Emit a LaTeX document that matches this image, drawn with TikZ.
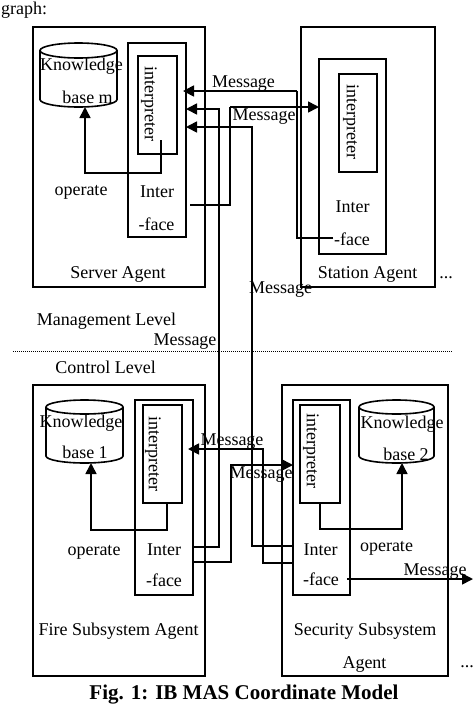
\documentclass[tikz,border=0pt]{standalone}
\usepackage{fontspec}
\setmainfont{Liberation Serif}
\usetikzlibrary{arrows.meta,fit}
\newcommand\kbcyl[5]{%
  \draw[cyl] (#1,#2) ellipse [x radius=#4pt, y radius=#5pt];
  \draw[cyl] (#1-#4,#2) -- (#1-#4,#3) arc[start angle=180,end angle=360,x radius=#4pt,y radius=#5pt] -- (#1+#4,#2);}
\begin{document}
\begin{tikzpicture}[x=1pt,y=-1pt,
  agent/.style={draw, line width=1.7pt, inner sep=0pt},
  inbox/.style={draw, line width=1.3pt, inner sep=0pt},
  cyl/.style={line width=1.6pt},
  lbl/.style={font=\fontsize{18}{20}\selectfont, inner sep=0pt, anchor=base},
  vlbl/.style={font=\fontsize{18}{20}\selectfont, inner sep=0pt, rotate=-90, anchor=center},
  conn/.style={line width=1.6pt},
  thinconn/.style={line width=1.2pt},
  tip/.style={-{Triangle[length=11pt,width=11pt]}},
  sep/.style={line width=0.9pt, dash pattern=on 1pt off 1pt}]
\useasboundingbox (0,0) rectangle (474,705);

% header / caption
\node[lbl, anchor=base west] (hdr) at (1,14) {graph:};
\node[lbl, font=\fontsize{21}{24}\selectfont\bfseries] (cap) at (244,699) {Fig. 1: IB MAS Coordinate Model};

% ---------- Server Agent ----------
\node[agent, fit={(33,27)(205,287)}] (srv) {};
\node[inbox, fit={(128,43)(186,237)}] (srvif) {};
\node[inbox, fit={(138,56)(177,154)}] (srvip) {};
\kbcyl{78.5}{50.5}{99.5}{38.5}{7.5}
\coordinate (kbm) at (85,107);
\node[lbl] (srvkn) at (81.5,70) {Knowledge};
\node[lbl] (srvkb) at (87.5,103) {base m};
\node[vlbl] (srvit) at (149,104) {interpreter};
\node[lbl] (srvop) at (81,195) {operate};
\node[lbl] (srvin) at (157,197) {Inter};
\node[lbl] (srvfa) at (156.5,230) {-face};
\node[lbl] (srvnm) at (118,278) {Server Agent};
\coordinate (srvops) at (161,140);
\draw[conn,tip] (srvops) -- (161,173) -| (kbm);

% ---------- Station Agent ----------
\node[agent, fit={(301,27)(435,287)}] (sta) {};
\node[inbox, fit={(319,59)(386,254)}] (staif) {};
\node[inbox, fit={(339,74)(377,172)}] (staip) {};
\node[vlbl] (stait) at (351,122) {interpreter};
\node[lbl] (stain) at (352.5,212) {Inter};
\node[lbl] (stafa) at (352,245) {-face};
\node[lbl] (stanm) at (367.5,278) {Station Agent};
\node[lbl] (stadots) at (446,278) {...};

% ---------- levels ----------
\node[lbl] (mgmt) at (106.5,325) {Management Level};
\node[lbl] (ctrl) at (105.5,373) {Control Level};
\coordinate (sepL) at (13,351);
\coordinate (sepR) at (452,351);
\draw[sep] (sepL) -- (sepR);

% ---------- Fire Subsystem Agent ----------
\node[agent, fit={(33,385)(205,676)}] (fire) {};
\node[inbox, fit={(135,400)(193,595)}] (fireif) {};
\node[inbox, fit={(143,405)(182,503)}] (fireip) {};
\kbcyl{84.5}{407}{456}{38.5}{7}
\coordinate (kb1) at (91,463);
\node[lbl] (firekn) at (81,427) {Knowledge};
\node[lbl] (firekb) at (85,458) {base 1};
\node[vlbl] (fireit) at (153,454) {interpreter};
\node[lbl] (fireop) at (94,555) {operate};
\node[lbl] (firein) at (164,555) {Inter};
\node[lbl] (firefa) at (164,586) {-face};
\node[lbl] (firenm) at (118.5,635) {Fire Subsystem Agent};
\coordinate (fireops) at (167,503);
\draw[conn,tip] (fireops) -- (167,530) -| (kb1);

% ---------- Security Subsystem Agent ----------
\node[agent, fit={(282,385)(448,676)}] (sec) {};
\node[inbox, fit={(293,400)(350,595)}] (secif) {};
\node[inbox, fit={(300,405)(340,503)}] (secip) {};
\kbcyl{396.5}{407}{456}{37.5}{7}
\coordinate (kb2) at (402,463);
\node[lbl] (seckn) at (402,428) {Knowledge};
\node[lbl] (seckb) at (406,460) {base 2};
\node[vlbl] (secit) at (311,451) {interpreter};
\node[lbl] (secop) at (386.5,551) {operate};
\node[lbl] (secin) at (320.5,555) {Inter};
\node[lbl] (secfa) at (321,585) {-face};
\node[lbl] (secnm) at (365,635) {Security Subsystem};
\node[lbl] (secnm2) at (364.5,668) {Agent};
\node[lbl] (secdots) at (467,667) {...};
\coordinate (secops) at (320,503);
\draw[conn,tip] (secops) -- (320,529) -| (kb2);

% ---------- message connectors ----------
% station -> server
\coordinate (c1s) at (333,238);
\coordinate (c1e) at (183,91);
\draw[thinconn] (c1s) -| (297,91);
\draw[conn,tip] (297,91) -- (c1e);
\node[lbl] (m1) at (243.5,87) {Message};
% server -> station
\coordinate (c2s) at (190,205);
\coordinate (c2e) at (319,107);
\draw[thinconn] (c2s) -| (230,107);
\draw[conn,tip] (230,107) -- (c2e);
\node[lbl] (m2) at (264,120) {Message};
% fire -> server
\coordinate (c3s) at (193,547);
\coordinate (c3e) at (186,109);
\draw[conn,tip] (c3s) -| (219,109) -- (c3e);
\node[lbl] (m4) at (185,345) {Message};
% security -> server
\coordinate (c4s) at (293,546);
\coordinate (c4e) at (186,127);
\draw[conn,tip] (c4s) -| (252,127) -- (c4e);
\node[lbl] (m3) at (280.5,293) {Message};
% fire -> security
\coordinate (c5s) at (193,562);
\coordinate (c5e) at (293,465);
\draw[conn,tip] (c5s) -| (231,465) -- (c5e);
\node[lbl] (m6) at (261,478) {Message};
% security -> fire
\coordinate (c6s) at (293,563);
\coordinate (c6e) at (188,449);
\draw[conn,tip] (c6s) -| (263,449) -- (c6e);
\node[lbl] (m5) at (232,445) {Message};
% security -> out
\coordinate (c7s) at (347,579);
\coordinate (c7e) at (473,579);
\draw[conn,tip] (c7s) -- (c7e);
\node[lbl] (m7) at (435,575) {Message};
\end{tikzpicture}
\end{document}
